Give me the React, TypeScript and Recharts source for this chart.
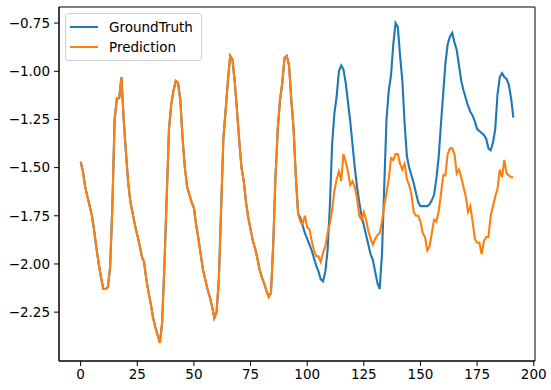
import { LineChart, Line, XAxis, YAxis, Legend, ReferenceArea } from 'recharts';

// steps 0..96: input window, prediction follows the ground truth exactly
const history = [
    -1.47, -1.52, -1.6, -1.65, -1.7, -1.75, -1.83, -1.92, -2.0, -2.07,
    -2.13, -2.13, -2.12, -2.02, -1.7, -1.25, -1.14, -1.14, -1.03, -1.25,
    -1.42, -1.58, -1.68, -1.74, -1.8, -1.85, -1.9, -1.96, -1.99, -2.08,
    -2.15, -2.21, -2.28, -2.33, -2.37, -2.41, -2.3, -2.0, -1.65, -1.3,
    -1.17, -1.1, -1.05, -1.06, -1.15, -1.35, -1.5, -1.6, -1.64, -1.68,
    -1.71, -1.8, -1.87, -1.95, -2.03, -2.08, -2.13, -2.17, -2.22, -2.28,
    -2.25, -2.08, -1.72, -1.35, -1.2, -1.05, -0.92, -0.94, -1.05, -1.2,
    -1.36, -1.5, -1.57, -1.68, -1.76, -1.82, -1.88, -1.92, -1.97, -2.03,
    -2.07, -2.1, -2.14, -2.17, -2.15, -1.9, -1.55, -1.3, -1.15, -1.06,
    -0.93, -0.92, -0.97, -1.15, -1.3, -1.55, -1.74,
];

// steps 97..191
const groundTruthFuture = [
    -1.76, -1.8, -1.84, -1.87, -1.9, -1.93, -1.97, -2.01, -2.04, -2.08,
    -2.09, -2.04, -1.93, -1.7, -1.38, -1.22, -1.13, -1.0, -0.97, -0.99,
    -1.06, -1.16, -1.26, -1.38, -1.5, -1.6, -1.68, -1.75, -1.8, -1.85,
    -1.9, -1.95, -1.98, -2.04, -2.1, -2.13, -1.95, -1.6, -1.25, -1.1,
    -1.02, -0.86, -0.75, -0.77, -0.92, -1.05, -1.27, -1.44, -1.5, -1.54,
    -1.58, -1.63, -1.68, -1.7, -1.7, -1.7, -1.7, -1.69, -1.67, -1.64,
    -1.56, -1.45, -1.28, -1.12, -0.96, -0.86, -0.82, -0.8, -0.85, -0.89,
    -0.97, -1.05, -1.1, -1.14, -1.18, -1.21, -1.23, -1.26, -1.3, -1.31,
    -1.32, -1.33, -1.35, -1.4, -1.41, -1.37, -1.3, -1.12, -1.03, -1.01,
    -1.03, -1.04, -1.07, -1.14, -1.24,
];

const predictionFuture = [
    -1.78, -1.79, -1.75, -1.81, -1.82, -1.88, -1.93, -1.96, -1.96, -1.99,
    -1.94, -1.91, -1.84, -1.79, -1.72, -1.62, -1.56, -1.52, -1.57, -1.43,
    -1.47, -1.52, -1.59, -1.57, -1.6, -1.66, -1.75, -1.77, -1.73, -1.77,
    -1.83, -1.87, -1.9, -1.87, -1.85, -1.84, -1.78, -1.7, -1.63, -1.56,
    -1.45, -1.46, -1.43, -1.43, -1.48, -1.51, -1.48, -1.56, -1.59, -1.64,
    -1.73, -1.75, -1.75, -1.78, -1.84, -1.86, -1.93, -1.91, -1.84, -1.77,
    -1.78, -1.73, -1.64, -1.54, -1.54, -1.43, -1.4, -1.4, -1.43, -1.53,
    -1.51, -1.55, -1.6, -1.65, -1.73, -1.7, -1.78, -1.87, -1.89, -1.89,
    -1.95, -1.88, -1.86, -1.86, -1.75, -1.7, -1.65, -1.61, -1.51, -1.55,
    -1.46, -1.53, -1.54, -1.55, -1.55,
];

const xTicks = [0, 25, 50, 75, 100, 125, 150, 175, 200];
const yTicks = [-2.25, -2.0, -1.75, -1.5, -1.25, -1.0, -0.75];

const groundTruth = [...history, ...groundTruthFuture];
const prediction = [...history, ...predictionFuture];
const data = groundTruth.map((gt, i) => ({ step: i, gt, pred: prediction[i] }));

const BLUE = '#1f77b4';
const ORANGE = '#ff7f0e';
const FONT = '"DejaVu Sans", sans-serif';
const X_DOMAIN: [number, number] = [-9.55, 200.55];
const Y_DOMAIN: [number, number] = [-2.5035, -0.6665];

const fmt = (v: number) => {
    const s = Math.abs(v).toFixed(2);
    return v < 0 ? `\u2212${s}` : s;
};

const LegendBox = () => (
    <div
        style={{
            border: '1px solid #d0d0d0',
            borderRadius: 3,
            background: 'rgba(255,255,255,0.8)',
            padding: '3px 8px 3px 4px',
            fontFamily: FONT,
            fontSize: 13.5,
            lineHeight: '20px',
            color: '#000',
        }}
    >
        {[
            { name: 'GroundTruth', color: BLUE },
            { name: 'Prediction', color: ORANGE },
        ].map((it) => (
            <div key={it.name} style={{ display: 'flex', alignItems: 'center' }}>
                <span style={{ display: 'inline-block', width: 28, height: 2, background: it.color, marginRight: 11 }} />
                <span>{it.name}</span>
            </div>
        ))}
    </div>
);

export default function App() {
    const tick = { fontSize: 13.5, fill: '#000', fontFamily: FONT };
    return (
        <div style={{ position: 'fixed', left: 0, top: 0, width: 551, height: 390, background: '#fff' }}>
            <LineChart width={551} height={390} data={data} margin={{ top: 7, right: 16, left: 0, bottom: 0 }}>
                <XAxis
                    dataKey="step"
                    type="number"
                    domain={X_DOMAIN}
                    ticks={xTicks}
                    allowDataOverflow
                    height={29}
                    tickSize={5}
                    tickMargin={3}
                    tick={tick}
                    stroke="#000"
                    tickLine={{ stroke: '#000' }}
                    axisLine={{ stroke: '#000' }}
                />
                <YAxis
                    type="number"
                    domain={Y_DOMAIN}
                    ticks={yTicks}
                    allowDataOverflow
                    width={59}
                    tickSize={5}
                    tickMargin={4}
                    tickFormatter={fmt}
                    tick={tick}
                    tickLine={{ stroke: '#000' }}
                    axisLine={{ stroke: '#000' }}
                />
                {/* axes frame (top and right spines) */}
                <ReferenceArea
                    x1={X_DOMAIN[0]}
                    x2={X_DOMAIN[1]}
                    y1={Y_DOMAIN[0]}
                    y2={Y_DOMAIN[1]}
                    fill="none"
                    fillOpacity={0}
                    stroke="#000"
                    strokeWidth={1}
                    ifOverflow="visible"
                />
                <Legend
                    layout="vertical"
                    align="center"
                    verticalAlign="middle"
                    wrapperStyle={{ top: 13, left: 65, width: 'auto' }}
                    content={() => <LegendBox />}
                />
                <Line
                    type="linear"
                    dataKey="gt"
                    name="GroundTruth"
                    stroke={BLUE}
                    strokeWidth={2.1}
                    dot={false}
                    isAnimationActive={false}
                />
                <Line
                    type="linear"
                    dataKey="pred"
                    name="Prediction"
                    stroke={ORANGE}
                    strokeWidth={2.1}
                    dot={false}
                    isAnimationActive={false}
                />
            </LineChart>
        </div>
    );
}
